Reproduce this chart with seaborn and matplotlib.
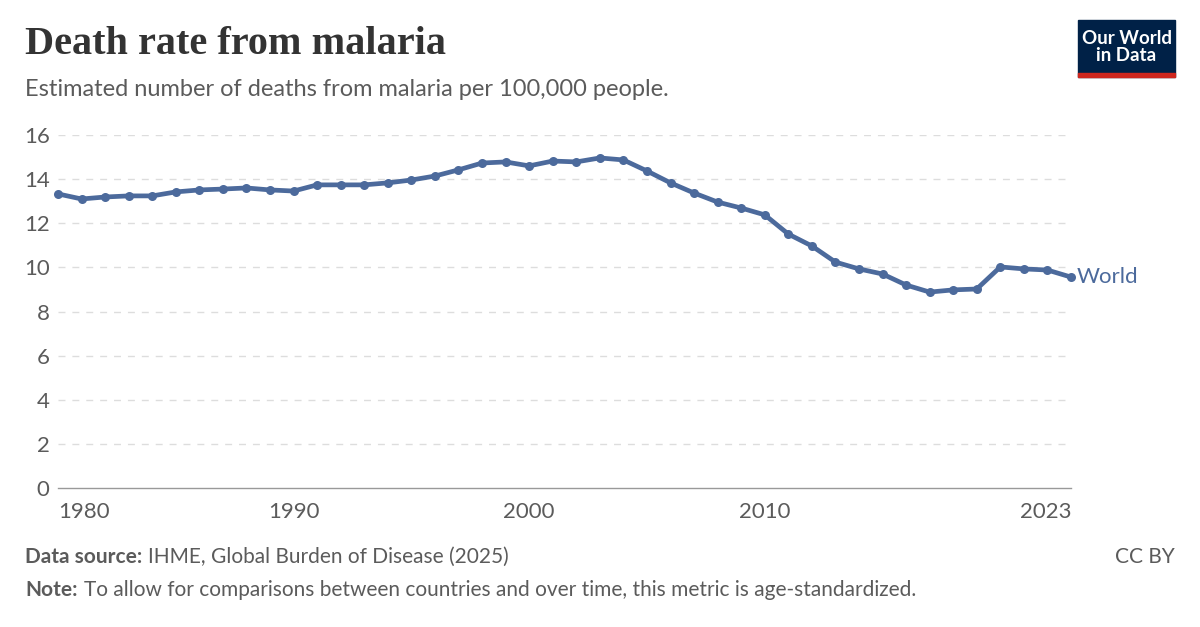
import numpy as np
import pandas as pd
import matplotlib
matplotlib.use('Agg')
import matplotlib.pyplot as plt
from matplotlib.patches import Rectangle
import seaborn as sns

# datos
years = list(range(1980, 2024))
rate = [13.33, 13.10, 13.19, 13.24, 13.24, 13.42, 13.51, 13.55, 13.60, 13.51,
        13.46, 13.74, 13.74, 13.74, 13.83, 13.96, 14.14, 14.42, 14.73, 14.78,
        14.60, 14.82, 14.78, 14.96, 14.87, 14.37, 13.83, 13.37, 12.96, 12.69,
        12.38, 11.51, 10.97, 10.24, 9.93, 9.70, 9.20, 8.88, 8.98, 9.02,
        10.02, 9.93, 9.88, 9.56]
xticks = [1980, 1990, 2000, 2010, 2023]
yticks = [0, 2, 4, 6, 8, 10, 12, 14, 16]

df = pd.DataFrame({'year': years, 'rate': rate})

sns.set_theme(style='white')
plt.rcParams['font.family'] = ['Lato', 'DejaVu Sans']

azul = '#4c6a9c'
gris = '#5b5b5b'

fig = plt.figure(figsize=(12, 6.27), dpi=100)
ax = fig.add_axes([58/1200, 1-488/627, (1071-58)/1200, (488-135)/627])

sns.lineplot(data=df, x='year', y='rate', ax=ax, color=azul, lw=3.4,
             marker='o', markersize=6.5, markeredgewidth=0, clip_on=False)

ax.set_xlim(1980, 2023)
ax.set_ylim(0, 16)
ax.set_xticks(xticks)
ax.set_yticks(yticks)
ax.set_xlabel('')
ax.set_ylabel('')

for y in yticks[1:]:
    ax.axhline(y, color='#dddddd', lw=1, ls=(0, (5, 5)), zorder=0)

for s in ['top', 'right', 'left']:
    ax.spines[s].set_visible(False)
ax.spines['bottom'].set_color('#999999')
ax.spines['bottom'].set_linewidth(1)

ax.tick_params(axis='y', length=0, labelsize=16, labelcolor=gris, pad=6)
ax.tick_params(axis='x', length=6, width=1, color='#999999', direction='out',
               labelsize=16, labelcolor=gris, pad=4)
labs = ax.get_xticklabels()
labs[0].set_ha('left')
labs[-1].set_ha('right')

ax.text(2023 + 0.25, rate[-1], 'World', color=azul, fontsize=16, va='center',
        ha='left')

# titulo
fig.text(25/1200, 1-45/627, 'Death rate from malaria', fontsize=29,
         family=['Liberation Serif', 'DejaVu Serif'], color='#333333',
         va='center', ha='left', weight='bold')
fig.text(25/1200, 1-90/627, 'Estimated number of deaths from malaria per 100,000 people.',
         fontsize=17, color=gris, va='center', ha='left')

# logo
fig.patches.append(Rectangle((1078/1200, 1-77/627), 97/1200, 57/627,
                             transform=fig.transFigure, color='#002147'))
fig.patches.append(Rectangle((1078/1200, 1-77/627), 97/1200, 4/627,
                             transform=fig.transFigure, color='#ce261e'))
fig.text(1126.5/1200, 1-47/627, 'Our World\nin Data', color='white',
         fontsize=13.5, ha='center', va='center', linespacing=1.0, weight='bold')

# pie
fs = 15
r = fig.canvas.get_renderer()
t1 = fig.text(25/1200, 1-557/627, 'Data source:', fontsize=fs, color=gris,
              weight='bold', va='center', ha='left')
w1 = t1.get_window_extent(r).x1
fig.text((w1 + 6)/1200, 1-557/627, 'IHME, Global Burden of Disease (2025)',
         fontsize=fs, color=gris, va='center', ha='left')
fig.text(1175/1200, 1-557/627, 'CC BY', fontsize=fs, color=gris,
         va='center', ha='right')
t2 = fig.text(25/1200, 1-590/627, 'Note:', fontsize=fs, color=gris,
              weight='bold', va='center', ha='left')
w2 = t2.get_window_extent(r).x1
fig.text((w2 + 6)/1200, 1-590/627,
         'To allow for comparisons between countries and over time, this metric is age-standardized.',
         fontsize=fs, color=gris, va='center', ha='left')

fig.savefig('out.png', dpi=100, facecolor='white')
